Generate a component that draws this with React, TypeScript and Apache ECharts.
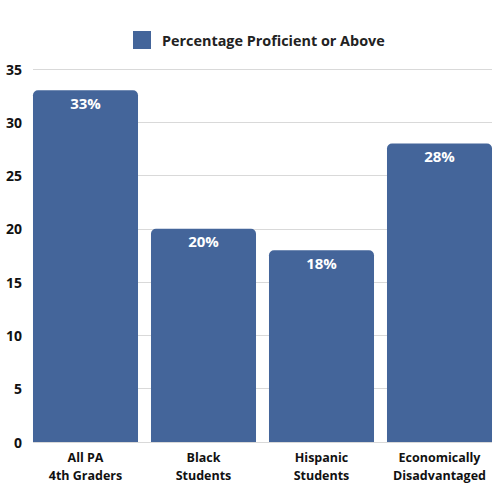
import React, { useEffect, useRef } from "react";
import * as echarts from "echarts";

const categories = ["All PA\n4th Graders", "Black\nStudents", "Hispanic\nStudents", "Economically\nDisadvantaged"];
const values = [33, 20, 18, 28];
const seriesName = "Percentage Proficient or Above";
const yMin = 0;
const yMax = 35;
const yInterval = 5;

const FONT = "'Open Sans', 'Lato', sans-serif";

export default function App() {
  const ref = useRef<HTMLDivElement>(null);
  useEffect(() => {
    if (!ref.current) return;
    const chart = echarts.init(ref.current, null, { renderer: "svg" });
    chart.setOption({
      animation: false,
      backgroundColor: "#ffffff",
      textStyle: { fontFamily: FONT },
      legend: {
        top: 26,
        left: 128,
        itemWidth: 18,
        itemHeight: 18,
        itemGap: 10,
        icon: "rect",
        textStyle: { fontFamily: FONT, fontSize: 14.4, fontWeight: "bold", color: "#222", padding: [0, 0, 0, 6] },
        data: [seriesName],
      },
      grid: [
        { left: 26.5, right: 1.5, top: 69, bottom: 58 },
        { left: 33, right: 8, top: 69, bottom: 58 },
      ],
      xAxis: [
        {
          type: "category",
          gridIndex: 0,
          data: categories,
          axisLine: { show: false },
          axisTick: { show: false },
          axisLabel: {
            fontFamily: FONT,
            fontSize: 12.5,
            fontWeight: "bold",
            color: "#111",
            lineHeight: 18,
            margin: 6,
            interval: 0,
          },
        },
        {
          type: "category",
          gridIndex: 1,
          data: categories,
          show: false,
        },
      ],
      yAxis: [
        {
          type: "value",
          gridIndex: 0,
          min: yMin,
          max: yMax,
          interval: yInterval,
          show: false,
          splitLine: { show: false },
        },
        {
          type: "value",
          gridIndex: 1,
          min: yMin,
          max: yMax,
          interval: yInterval,
          axisLine: { show: false },
          axisTick: { show: false },
          axisLabel: {
            fontFamily: FONT,
            fontSize: 14,
            fontWeight: "bold",
            color: "#111",
            margin: 11,
          },
          splitLine: { show: true, lineStyle: { color: "#d9d9d9", width: 1 } },
        },
      ],
      series: [
        {
          name: seriesName,
          type: "bar",
          xAxisIndex: 0,
          yAxisIndex: 0,
          data: values,
          barCategoryGap: "11%",
          itemStyle: { color: "#44659a", borderRadius: [5, 5, 0, 0] },
          label: {
            show: true,
            position: "insideTop",
            distance: 5,
            formatter: "{c}%",
            color: "#ffffff",
            fontFamily: FONT,
            fontSize: 15,
            fontWeight: "bold",
          },
        },
      ],
    });
    return () => chart.dispose();
  }, []);
  return <div ref={ref} style={{ width: 500, height: 500, position: "absolute", left: 0, top: 0 }} />;
}
